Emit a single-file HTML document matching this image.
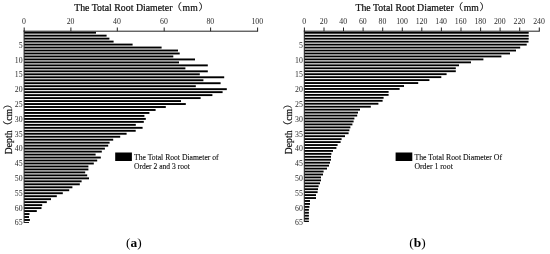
<!DOCTYPE html>
<html><head><meta charset="utf-8"><title>The Total Root Diameter</title>
<style>
html,body{margin:0;padding:0;background:#fff;}
body{width:550px;height:254px;overflow:hidden;}
svg{display:block;}
text{font-family:"Liberation Serif","Noto Serif CJK SC",serif;fill:#111;}
.t{font-size:9.7px;stroke:#111;stroke-width:0.22px;}
.k{font-size:7.8px;fill:#2c2c2c;}
.lg{font-size:7.5px;stroke:#111;stroke-width:0.12px;}
.cap{font-size:13.4px;fill:#000;}
</style></head><body>
<svg width="550" height="254" viewBox="0 0 550 254">
<rect width="550" height="254" fill="#fff"/>

<g fill="#000">
<rect x="24.1" y="31.73" width="71.9" height="1.90"/>
<rect x="24.1" y="34.70" width="82.5" height="1.90"/>
<rect x="24.1" y="37.68" width="85.3" height="1.90"/>
<rect x="24.1" y="40.65" width="89.5" height="1.90"/>
<rect x="24.1" y="43.62" width="108.5" height="1.90"/>
<rect x="24.1" y="46.59" width="137.5" height="1.90"/>
<rect x="24.1" y="49.57" width="153.9" height="1.90"/>
<rect x="24.1" y="52.54" width="155.6" height="1.90"/>
<rect x="24.1" y="55.51" width="149.2" height="1.90"/>
<rect x="24.1" y="58.49" width="170.9" height="1.90"/>
<rect x="24.1" y="61.46" width="154.9" height="1.90"/>
<rect x="24.1" y="64.43" width="183.7" height="1.90"/>
<rect x="24.1" y="67.41" width="161.3" height="1.90"/>
<rect x="24.1" y="70.38" width="183.7" height="1.90"/>
<rect x="24.1" y="73.35" width="175.7" height="1.90"/>
<rect x="24.1" y="76.33" width="200.1" height="1.90"/>
<rect x="24.1" y="79.30" width="179.3" height="1.90"/>
<rect x="24.1" y="82.27" width="196.5" height="1.90"/>
<rect x="24.1" y="85.24" width="171.7" height="1.90"/>
<rect x="24.1" y="88.22" width="202.7" height="1.90"/>
<rect x="24.1" y="91.19" width="198.5" height="1.90"/>
<rect x="24.1" y="94.16" width="188.3" height="1.90"/>
<rect x="24.1" y="97.14" width="176.5" height="1.90"/>
<rect x="24.1" y="100.11" width="156.9" height="1.90"/>
<rect x="24.1" y="103.08" width="161.7" height="1.90"/>
<rect x="24.1" y="106.05" width="141.7" height="1.90"/>
<rect x="24.1" y="109.03" width="131.5" height="1.90"/>
<rect x="24.1" y="112.00" width="125.3" height="1.90"/>
<rect x="24.1" y="114.97" width="120.3" height="1.90"/>
<rect x="24.1" y="117.95" width="121.7" height="1.90"/>
<rect x="24.1" y="120.92" width="119.7" height="1.90"/>
<rect x="24.1" y="123.89" width="111.7" height="1.90"/>
<rect x="24.1" y="126.87" width="118.5" height="1.90"/>
<rect x="24.1" y="129.84" width="111.6" height="1.90"/>
<rect x="24.1" y="132.81" width="102.5" height="1.90"/>
<rect x="24.1" y="135.78" width="96.1" height="1.90"/>
<rect x="24.1" y="138.76" width="89.1" height="1.90"/>
<rect x="24.1" y="141.73" width="85.5" height="1.90"/>
<rect x="24.1" y="144.70" width="84.1" height="1.90"/>
<rect x="24.1" y="147.68" width="80.8" height="1.90"/>
<rect x="24.1" y="150.65" width="77.7" height="1.90"/>
<rect x="24.1" y="153.62" width="71.5" height="1.90"/>
<rect x="24.1" y="156.60" width="76.7" height="1.90"/>
<rect x="24.1" y="159.57" width="73.1" height="1.90"/>
<rect x="24.1" y="162.54" width="69.7" height="1.90"/>
<rect x="24.1" y="165.52" width="64.3" height="1.90"/>
<rect x="24.1" y="168.49" width="64.3" height="1.90"/>
<rect x="24.1" y="171.46" width="61.1" height="1.90"/>
<rect x="24.1" y="174.43" width="63.1" height="1.90"/>
<rect x="24.1" y="177.41" width="64.9" height="1.90"/>
<rect x="24.1" y="180.38" width="57.5" height="1.90"/>
<rect x="24.1" y="183.35" width="55.7" height="1.90"/>
<rect x="24.1" y="186.33" width="48.3" height="1.90"/>
<rect x="24.1" y="189.30" width="45.1" height="1.90"/>
<rect x="24.1" y="192.27" width="38.7" height="1.90"/>
<rect x="24.1" y="195.25" width="32.7" height="1.90"/>
<rect x="24.1" y="198.22" width="26.9" height="1.90"/>
<rect x="24.1" y="201.19" width="22.7" height="1.90"/>
<rect x="24.1" y="204.16" width="18.1" height="1.90"/>
<rect x="24.1" y="207.14" width="17.4" height="1.90"/>
<rect x="24.1" y="210.11" width="12.7" height="1.90"/>
<rect x="24.1" y="213.08" width="5.4" height="1.90"/>
<rect x="24.1" y="216.06" width="4.9" height="1.90"/>
<rect x="24.1" y="219.03" width="5.8" height="1.90"/>
<rect x="24.1" y="222.00" width="4.9" height="0.90"/>
</g>
<g stroke="#222" stroke-width="1" fill="none">
<line x1="23.6" y1="31.2" x2="258.1" y2="31.2"/>
<line x1="24.1" y1="30.5" x2="24.1" y2="222.9"/>
<line x1="24.2" y1="27.5" x2="24.2" y2="31.2"/>
<line x1="70.9" y1="27.5" x2="70.9" y2="31.2"/>
<line x1="117.3" y1="27.5" x2="117.3" y2="31.2"/>
<line x1="164.2" y1="27.5" x2="164.2" y2="31.2"/>
<line x1="210.6" y1="27.5" x2="210.6" y2="31.2"/>
<line x1="257.6" y1="27.5" x2="257.6" y2="31.2"/>
</g>
<text class="k" transform="translate(23.9,23.8) scale(1,1.06)" text-anchor="middle">0</text>
<text class="k" transform="translate(70.6,23.8) scale(1,1.06)" text-anchor="middle">20</text>
<text class="k" transform="translate(117.0,23.8) scale(1,1.06)" text-anchor="middle">40</text>
<text class="k" transform="translate(163.9,23.8) scale(1,1.06)" text-anchor="middle">60</text>
<text class="k" transform="translate(210.3,23.8) scale(1,1.06)" text-anchor="middle">80</text>
<text class="k" transform="translate(257.3,23.8) scale(1,1.06)" text-anchor="middle">100</text>
<text class="k" transform="translate(22.6,47.8) scale(1,1.06)" text-anchor="end">5</text>
<text class="k" transform="translate(22.6,62.5) scale(1,1.06)" text-anchor="end">10</text>
<text class="k" transform="translate(22.6,77.3) scale(1,1.06)" text-anchor="end">15</text>
<text class="k" transform="translate(22.6,92.2) scale(1,1.06)" text-anchor="end">20</text>
<text class="k" transform="translate(22.6,107.0) scale(1,1.06)" text-anchor="end">25</text>
<text class="k" transform="translate(22.6,121.8) scale(1,1.06)" text-anchor="end">30</text>
<text class="k" transform="translate(22.6,136.6) scale(1,1.06)" text-anchor="end">35</text>
<text class="k" transform="translate(22.6,151.3) scale(1,1.06)" text-anchor="end">40</text>
<text class="k" transform="translate(22.6,166.2) scale(1,1.06)" text-anchor="end">45</text>
<text class="k" transform="translate(22.6,180.9) scale(1,1.06)" text-anchor="end">50</text>
<text class="k" transform="translate(22.6,195.8) scale(1,1.06)" text-anchor="end">55</text>
<text class="k" transform="translate(22.6,210.6) scale(1,1.06)" text-anchor="end">60</text>
<text class="k" transform="translate(22.6,225.3) scale(1,1.06)" text-anchor="end">65</text>
<text class="t" x="74.2" y="11" textLength="98.3" lengthAdjust="spacingAndGlyphs">The Total Root Diameter</text>
<text class="t" x="172.2" y="10.9">（</text>
<text class="t" x="182.6" y="10.9">mm</text>
<text class="t" x="198.4" y="10.9">）</text>
<text class="t" transform="translate(12.0,154.2) rotate(-90)">Depth（cm）</text>
<rect x="115.2" y="152.5" width="16.7" height="8.5" fill="#000"/>
<text class="lg" x="134.0" y="160" textLength="84.6" lengthAdjust="spacingAndGlyphs">The Total Root Diameter of</text>
<text class="lg" x="134.0" y="169" textLength="55.8" lengthAdjust="spacingAndGlyphs">Order 2 and 3 root</text>
<text class="cap" x="133.9" y="246.9" text-anchor="middle">(<tspan font-weight="bold">a</tspan>)</text>
<g fill="#000">
<rect x="304.3" y="31.88" width="224.4" height="1.84"/>
<rect x="304.3" y="34.84" width="224.4" height="1.84"/>
<rect x="304.3" y="37.79" width="224.4" height="1.84"/>
<rect x="304.3" y="40.75" width="224.2" height="1.84"/>
<rect x="304.3" y="43.70" width="222.4" height="1.84"/>
<rect x="304.3" y="46.66" width="215.9" height="1.84"/>
<rect x="304.3" y="49.62" width="211.7" height="1.84"/>
<rect x="304.3" y="52.57" width="205.7" height="1.84"/>
<rect x="304.3" y="55.53" width="197.1" height="1.84"/>
<rect x="304.3" y="58.48" width="179.1" height="1.84"/>
<rect x="304.3" y="61.44" width="166.7" height="1.84"/>
<rect x="304.3" y="64.40" width="154.7" height="1.84"/>
<rect x="304.3" y="67.35" width="151.5" height="1.84"/>
<rect x="304.3" y="70.31" width="151.5" height="1.84"/>
<rect x="304.3" y="73.26" width="142.3" height="1.84"/>
<rect x="304.3" y="76.22" width="137.0" height="1.84"/>
<rect x="304.3" y="79.18" width="125.1" height="1.84"/>
<rect x="304.3" y="82.13" width="113.9" height="1.84"/>
<rect x="304.3" y="85.09" width="99.7" height="1.84"/>
<rect x="304.3" y="88.04" width="95.3" height="1.84"/>
<rect x="304.3" y="91.00" width="84.3" height="1.84"/>
<rect x="304.3" y="93.96" width="84.3" height="1.84"/>
<rect x="304.3" y="96.91" width="79.3" height="1.84"/>
<rect x="304.3" y="99.87" width="78.3" height="1.84"/>
<rect x="304.3" y="102.82" width="74.1" height="1.84"/>
<rect x="304.3" y="105.78" width="66.5" height="1.84"/>
<rect x="304.3" y="108.74" width="55.7" height="1.84"/>
<rect x="304.3" y="111.69" width="53.7" height="1.84"/>
<rect x="304.3" y="114.65" width="52.9" height="1.84"/>
<rect x="304.3" y="117.60" width="50.1" height="1.84"/>
<rect x="304.3" y="120.55" width="49.3" height="1.84"/>
<rect x="304.3" y="123.49" width="48.1" height="1.84"/>
<rect x="304.3" y="126.44" width="46.1" height="1.84"/>
<rect x="304.3" y="129.38" width="45.1" height="1.84"/>
<rect x="304.3" y="132.33" width="44.3" height="1.84"/>
<rect x="304.3" y="135.27" width="40.7" height="1.84"/>
<rect x="304.3" y="138.22" width="37.3" height="1.84"/>
<rect x="304.3" y="141.16" width="36.3" height="1.84"/>
<rect x="304.3" y="144.11" width="33.3" height="1.84"/>
<rect x="304.3" y="147.05" width="32.1" height="1.84"/>
<rect x="304.3" y="150.00" width="28.7" height="1.84"/>
<rect x="304.3" y="152.94" width="27.1" height="1.84"/>
<rect x="304.3" y="155.89" width="26.7" height="1.84"/>
<rect x="304.3" y="158.83" width="26.7" height="1.84"/>
<rect x="304.3" y="161.78" width="25.7" height="1.84"/>
<rect x="304.3" y="164.72" width="24.7" height="1.84"/>
<rect x="304.3" y="167.67" width="22.7" height="1.84"/>
<rect x="304.3" y="170.61" width="19.3" height="1.84"/>
<rect x="304.3" y="173.56" width="18.7" height="1.84"/>
<rect x="304.3" y="176.50" width="16.7" height="1.84"/>
<rect x="304.3" y="179.45" width="16.7" height="1.84"/>
<rect x="304.3" y="182.39" width="15.7" height="1.84"/>
<rect x="304.3" y="185.34" width="14.3" height="1.84"/>
<rect x="304.3" y="188.28" width="13.7" height="1.84"/>
<rect x="304.3" y="191.23" width="13.3" height="1.84"/>
<rect x="304.3" y="194.17" width="11.7" height="1.84"/>
<rect x="304.3" y="197.12" width="11.7" height="1.84"/>
<rect x="304.3" y="200.06" width="5.7" height="1.84"/>
<rect x="304.3" y="203.01" width="5.7" height="1.84"/>
<rect x="304.3" y="205.95" width="5.1" height="1.84"/>
<rect x="304.3" y="208.90" width="4.6" height="1.84"/>
<rect x="304.3" y="211.84" width="4.6" height="1.84"/>
<rect x="304.3" y="214.79" width="4.6" height="1.84"/>
<rect x="304.3" y="217.73" width="4.6" height="1.84"/>
<rect x="304.3" y="220.68" width="4.6" height="1.32"/>
</g>
<g stroke="#222" stroke-width="1" fill="none">
<line x1="303.8" y1="31.2" x2="539.8" y2="31.2"/>
<line x1="304.3" y1="30.5" x2="304.3" y2="222.0"/>
<line x1="304.4" y1="27.5" x2="304.4" y2="31.2"/>
<line x1="324.0" y1="27.5" x2="324.0" y2="31.2"/>
<line x1="343.5" y1="27.5" x2="343.5" y2="31.2"/>
<line x1="363.1" y1="27.5" x2="363.1" y2="31.2"/>
<line x1="382.7" y1="27.5" x2="382.7" y2="31.2"/>
<line x1="402.3" y1="27.5" x2="402.3" y2="31.2"/>
<line x1="421.8" y1="27.5" x2="421.8" y2="31.2"/>
<line x1="441.4" y1="27.5" x2="441.4" y2="31.2"/>
<line x1="461.0" y1="27.5" x2="461.0" y2="31.2"/>
<line x1="480.6" y1="27.5" x2="480.6" y2="31.2"/>
<line x1="500.1" y1="27.5" x2="500.1" y2="31.2"/>
<line x1="519.7" y1="27.5" x2="519.7" y2="31.2"/>
<line x1="539.3" y1="27.5" x2="539.3" y2="31.2"/>
</g>
<text class="k" transform="translate(304.1,23.8) scale(1,1.06)" text-anchor="middle">0</text>
<text class="k" transform="translate(323.7,23.8) scale(1,1.06)" text-anchor="middle">20</text>
<text class="k" transform="translate(343.2,23.8) scale(1,1.06)" text-anchor="middle">40</text>
<text class="k" transform="translate(362.8,23.8) scale(1,1.06)" text-anchor="middle">60</text>
<text class="k" transform="translate(382.4,23.8) scale(1,1.06)" text-anchor="middle">80</text>
<text class="k" transform="translate(402.0,23.8) scale(1,1.06)" text-anchor="middle">100</text>
<text class="k" transform="translate(421.5,23.8) scale(1,1.06)" text-anchor="middle">120</text>
<text class="k" transform="translate(441.1,23.8) scale(1,1.06)" text-anchor="middle">140</text>
<text class="k" transform="translate(460.7,23.8) scale(1,1.06)" text-anchor="middle">160</text>
<text class="k" transform="translate(480.3,23.8) scale(1,1.06)" text-anchor="middle">180</text>
<text class="k" transform="translate(499.8,23.8) scale(1,1.06)" text-anchor="middle">200</text>
<text class="k" transform="translate(519.4,23.8) scale(1,1.06)" text-anchor="middle">220</text>
<text class="k" transform="translate(539.0,23.8) scale(1,1.06)" text-anchor="middle">240</text>
<text class="k" transform="translate(302.8,47.8) scale(1,1.06)" text-anchor="end">5</text>
<text class="k" transform="translate(302.8,62.5) scale(1,1.06)" text-anchor="end">10</text>
<text class="k" transform="translate(302.8,77.3) scale(1,1.06)" text-anchor="end">15</text>
<text class="k" transform="translate(302.8,92.2) scale(1,1.06)" text-anchor="end">20</text>
<text class="k" transform="translate(302.8,107.0) scale(1,1.06)" text-anchor="end">25</text>
<text class="k" transform="translate(302.8,121.8) scale(1,1.06)" text-anchor="end">30</text>
<text class="k" transform="translate(302.8,136.6) scale(1,1.06)" text-anchor="end">35</text>
<text class="k" transform="translate(302.8,151.3) scale(1,1.06)" text-anchor="end">40</text>
<text class="k" transform="translate(302.8,166.2) scale(1,1.06)" text-anchor="end">45</text>
<text class="k" transform="translate(302.8,180.9) scale(1,1.06)" text-anchor="end">50</text>
<text class="k" transform="translate(302.8,195.8) scale(1,1.06)" text-anchor="end">55</text>
<text class="k" transform="translate(302.8,210.6) scale(1,1.06)" text-anchor="end">60</text>
<text class="k" transform="translate(302.8,225.3) scale(1,1.06)" text-anchor="end">65</text>
<text class="t" x="355.4" y="11" textLength="98.3" lengthAdjust="spacingAndGlyphs">The Total Root Diameter</text>
<text class="t" x="453.4" y="10.9">（</text>
<text class="t" x="463.8" y="10.9">mm</text>
<text class="t" x="479.6" y="10.9">）</text>
<text class="t" transform="translate(292.3,154.2) rotate(-90)">Depth（cm）</text>
<rect x="395.6" y="152.5" width="16.7" height="8.5" fill="#000"/>
<text class="lg" x="414.4" y="160" textLength="87.6" lengthAdjust="spacingAndGlyphs">The Total Root Diameter Of</text>
<text class="lg" x="414.4" y="169" textLength="38.4" lengthAdjust="spacingAndGlyphs">Order 1 root</text>
<text class="cap" x="417.5" y="246.9" text-anchor="middle">(<tspan font-weight="bold">b</tspan>)</text>
</svg></body></html>
